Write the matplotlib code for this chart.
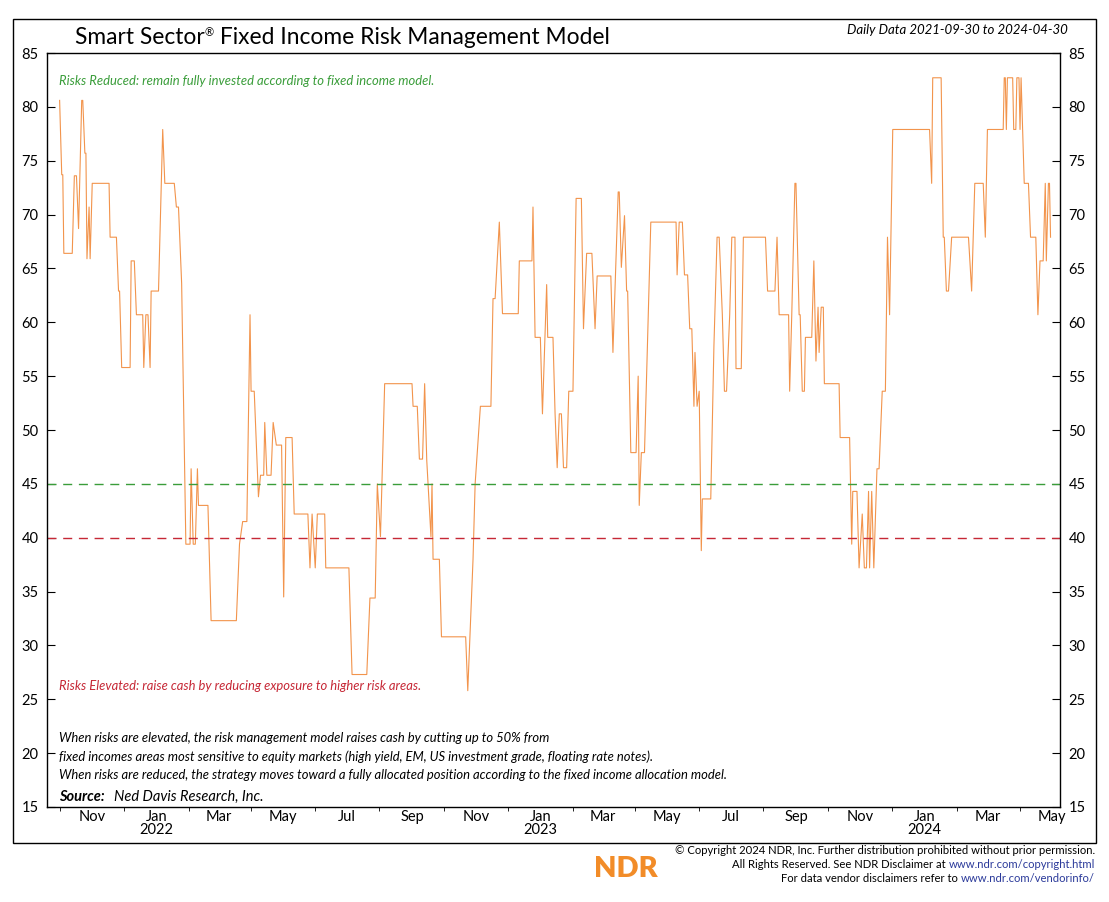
import numpy as np
import pandas as pd
import matplotlib
matplotlib.use("Agg")
import matplotlib.pyplot as plt
import matplotlib.dates as mdates
from matplotlib.patches import Rectangle

START = "2021-09-30"

# days after START and model reading
days = [1, 3, 4, 5, 13, 15, 17, 19, 22, 23,
        25, 26, 27, 29, 30, 32, 48, 49, 55, 57,
        58, 60, 68, 69, 72, 74, 80, 81, 83, 85,
        87, 88, 95, 99, 101, 110, 112, 114, 117, 121,
        125, 126, 128, 130, 132, 133, 142, 145, 169, 172,
        175, 179, 182, 183, 186, 188, 190, 192, 195, 196,
        198, 202, 204, 207, 212, 214, 216, 222, 224, 237,
        239, 241, 244, 246, 253, 254, 276, 279, 293, 296,
        301, 303, 306, 310, 336, 337, 341, 343, 346, 348,
        350, 354, 355, 356, 362, 364, 387, 389, 394, 396,
        401, 411, 413, 415, 419, 422, 437, 438, 450, 451,
        453, 458, 460, 464, 465, 470, 472, 474, 476, 478,
        480, 483, 485, 489, 492, 497, 499, 502, 507, 510,
        512, 525, 527, 532, 533, 535, 538, 540, 541, 544,
        549, 551, 552, 554, 557, 559, 563, 587, 588, 590,
        593, 595, 598, 600, 602, 604, 605, 607, 609, 611,
        612, 620, 623, 626, 628, 631, 633, 635, 638, 640,
        643, 644, 649, 651, 672, 674, 681, 683, 685, 694,
        695, 697, 700, 701, 704, 705, 707, 709, 710, 716,
        718, 720, 722, 723, 725, 727, 728, 742, 743, 752,
        754, 755, 759, 761, 764, 766, 768, 770, 771, 773,
        775, 778, 780, 783, 786, 788, 790, 793, 828, 830,
        831, 839, 841, 842, 844, 846, 849, 865, 868, 871,
        879, 881, 883, 898, 899, 900, 901, 902, 907, 908,
        910, 911, 913, 914, 915, 918, 922, 924, 929, 931,
        933, 936, 938, 939, 941, 942, 943]

values = [80.6, 73.7, 73.7, 66.4, 66.4, 73.6, 73.6, 68.7, 80.6, 80.6,
          75.7, 75.7, 65.9, 70.7, 65.9, 72.9, 72.9, 67.9, 67.9, 62.9,
          62.9, 55.8, 55.8, 65.7, 65.7, 60.7, 60.7, 55.8, 60.7, 60.7,
          55.8, 62.9, 62.9, 77.9, 72.9, 72.9, 70.7, 70.7, 63.6, 39.4,
          39.4, 46.4, 39.4, 39.4, 46.4, 43.0, 43.0, 32.3, 32.3, 39.4,
          41.5, 41.5, 60.7, 53.6, 53.6, 48.6, 43.8, 45.8, 45.8, 50.7,
          45.8, 45.8, 50.7, 48.6, 48.6, 34.5, 49.3, 49.3, 42.2, 42.2,
          37.2, 42.2, 37.2, 42.2, 42.2, 37.2, 37.2, 27.3, 27.3, 34.4,
          34.4, 45.0, 40.1, 54.3, 54.3, 52.2, 52.2, 47.3, 47.3, 54.3,
          47.2, 40.1, 45.0, 38.0, 38.0, 30.8, 30.8, 25.8, 38.0, 45.0,
          52.2, 52.2, 62.2, 62.2, 69.3, 60.8, 60.8, 65.7, 65.7, 70.7,
          58.6, 58.6, 51.5, 63.5, 58.6, 58.6, 51.5, 46.5, 51.5, 51.5,
          46.5, 46.5, 53.6, 53.6, 71.5, 71.5, 59.4, 66.4, 66.4, 59.4,
          64.3, 64.3, 57.2, 72.1, 72.1, 65.1, 69.9, 62.9, 62.9, 47.9,
          47.9, 55.0, 43.0, 47.9, 47.9, 55.1, 69.3, 69.3, 64.4, 69.3,
          69.3, 64.4, 64.4, 59.4, 59.4, 52.2, 57.2, 52.2, 53.6, 38.8,
          43.6, 43.6, 57.8, 67.9, 67.9, 60.7, 53.6, 53.6, 60.7, 67.9,
          67.9, 55.7, 55.7, 67.9, 67.9, 62.9, 62.9, 67.9, 60.7, 60.7,
          53.6, 60.7, 72.9, 72.9, 60.7, 60.7, 53.6, 53.6, 58.6, 58.6,
          65.7, 56.4, 61.4, 57.2, 61.4, 61.4, 54.3, 54.3, 49.3, 49.3,
          39.4, 44.3, 44.3, 37.2, 42.2, 37.2, 37.2, 44.3, 37.2, 44.3,
          37.2, 46.4, 46.4, 53.6, 53.6, 67.9, 60.7, 77.9, 77.9, 72.9,
          82.7, 82.7, 67.9, 67.9, 62.9, 62.9, 67.9, 67.9, 62.9, 72.9,
          72.9, 67.9, 77.9, 77.9, 82.7, 82.7, 77.9, 82.7, 82.7, 77.9,
          77.9, 82.7, 82.7, 77.9, 82.7, 72.9, 72.9, 67.9, 67.9, 60.7,
          65.7, 65.7, 72.9, 65.7, 72.9, 72.9, 67.9]

RISK_REDUCED = 45
RISK_ELEVATED = 40

tick_dates = ["2021-11-01", "2022-01-01", "2022-03-01", "2022-05-01", "2022-07-01",
              "2022-09-01", "2022-11-01", "2023-01-01", "2023-03-01", "2023-05-01",
              "2023-07-01", "2023-09-01", "2023-11-01", "2024-01-01", "2024-03-01",
              "2024-05-01"]
tick_labels = ["Nov", "Jan\n2022", "Mar", "May", "Jul", "Sep", "Nov", "Jan\n2023",
               "Mar", "May", "Jul", "Sep", "Nov", "Jan\n2024", "Mar", "May"]

notes = ["When risks are elevated, the risk management model raises cash by cutting up to 50% from",
         "fixed incomes areas most sensitive to equity markets (high yield, EM, US investment grade, floating rate notes).",
         "When risks are reduced, the strategy moves toward a fully allocated position according to the fixed income allocation model."]

plt.rcParams["font.family"] = ["Lato", "DejaVu Sans"]

W, H = 1109, 902
ORANGE = "#f2944c"
GREEN = "#3a9d3a"
RED = "#c62836"
BLUE = "#2b3a9a"


def fx(x):
    return x / W


def fy(y):
    return 1 - y / H


dates = pd.Timestamp(START) + pd.to_timedelta(np.array(days), unit="D")

fig = plt.figure(figsize=(W / 100, H / 100), dpi=100)
ax = fig.add_axes([fx(47), fy(807), (1060 - 47) / W, (807 - 53) / H])

ax.plot(dates, values, color=ORANGE, lw=0.8)
ax.axhline(RISK_REDUCED, color=GREEN, lw=1, dashes=(6.5, 4.8))
ax.axhline(RISK_ELEVATED, color=RED, lw=1, dashes=(6.5, 4.8))

ax.set_ylim(15, 85)
ax.set_yticks(np.arange(15, 86, 5))
ax.set_xlim(pd.Timestamp("2021-09-19"), pd.Timestamp("2024-05-09"))
ax.set_xticks(pd.to_datetime(tick_dates))
ax.set_xticklabels(tick_labels)
ax.xaxis.set_minor_locator(mdates.MonthLocator(bymonth=[2, 4, 6, 8, 10, 12]))
for lab in ax.get_xticklabels():
    lab.set_linespacing(0.95)

ax.tick_params(axis="y", direction="in", length=6, labelsize=10.5, pad=6,
               left=True, right=True, labelleft=True, labelright=True)
ax.tick_params(axis="x", which="major", length=0, labelsize=10.5, pad=2)
ax.tick_params(axis="x", which="minor", direction="out", length=3)
for s in ax.spines.values():
    s.set_linewidth(1)

# outer frame
fig.add_artist(Rectangle((fx(13), fy(843)), (1096 - 13) / W, (843 - 19) / H,
                         transform=fig.transFigure, fill=False, lw=1, ec="black"))

# title with small registered mark
t1 = fig.text(fx(75), fy(37), "Smart Sector", fontsize=16.4, va="center")
reg = ax.annotate("®", xy=(1, 0.95), xycoords=t1, fontsize=8, va="top", ha="left")
ax.annotate(" Fixed Income Risk Management Model", xy=(1, 0), xycoords=(reg, t1),
            fontsize=16.4, va="bottom", ha="left")
fig.text(fx(1068), fy(30), "Daily Data 2021-09-30 to 2024-04-30", fontsize=9.5,
         style="italic", ha="right", va="center")

fig.text(fx(59), fy(81), "Risks Reduced: remain fully invested according to fixed income model.",
         fontsize=9.4, style="italic", color=GREEN, va="center")
fig.text(fx(59), fy(686), "Risks Elevated: raise cash by reducing exposure to higher risk areas.",
         fontsize=9.4, style="italic", color=RED, va="center")
for i, line in enumerate(notes):
    fig.text(fx(59), fy(738 + i * 18.5), line, fontsize=9.4, style="italic", va="center")
src = fig.text(fx(59), fy(797), "Source:", fontsize=10.5, style="italic",
               weight="bold", va="center")
ax.annotate("Ned Davis Research, Inc.", xy=(1, 0), xycoords=src, xytext=(7, 0),
            textcoords="offset points", fontsize=10.5, style="italic", va="bottom")

# footer
fig.text(fx(1095), fy(850), "© Copyright 2024 NDR, Inc. Further distribution prohibited "
         "without prior permission.", fontsize=8.1, ha="right", va="center")
u1 = fig.text(fx(1095), fy(865), "www.ndr.com/copyright.html", fontsize=8.1,
              color=BLUE, ha="right", va="center")
ax.annotate("All Rights Reserved. See NDR Disclaimer at ", xy=(0, 0), xycoords=u1,
            fontsize=8.1, ha="right", va="bottom")
u2 = fig.text(fx(1095), fy(879), "www.ndr.com/vendorinfo/", fontsize=8.1,
              color=BLUE, ha="right", va="center")
ax.annotate("For data vendor disclaimers refer to ", xy=(0, 0), xycoords=u2,
            fontsize=8.1, ha="right", va="bottom")
fig.text(fx(594), fy(869), "NDR", fontsize=21, weight="heavy", color="#f28c28",
         va="center", ha="left")

fig.savefig("out.png", dpi=100)
